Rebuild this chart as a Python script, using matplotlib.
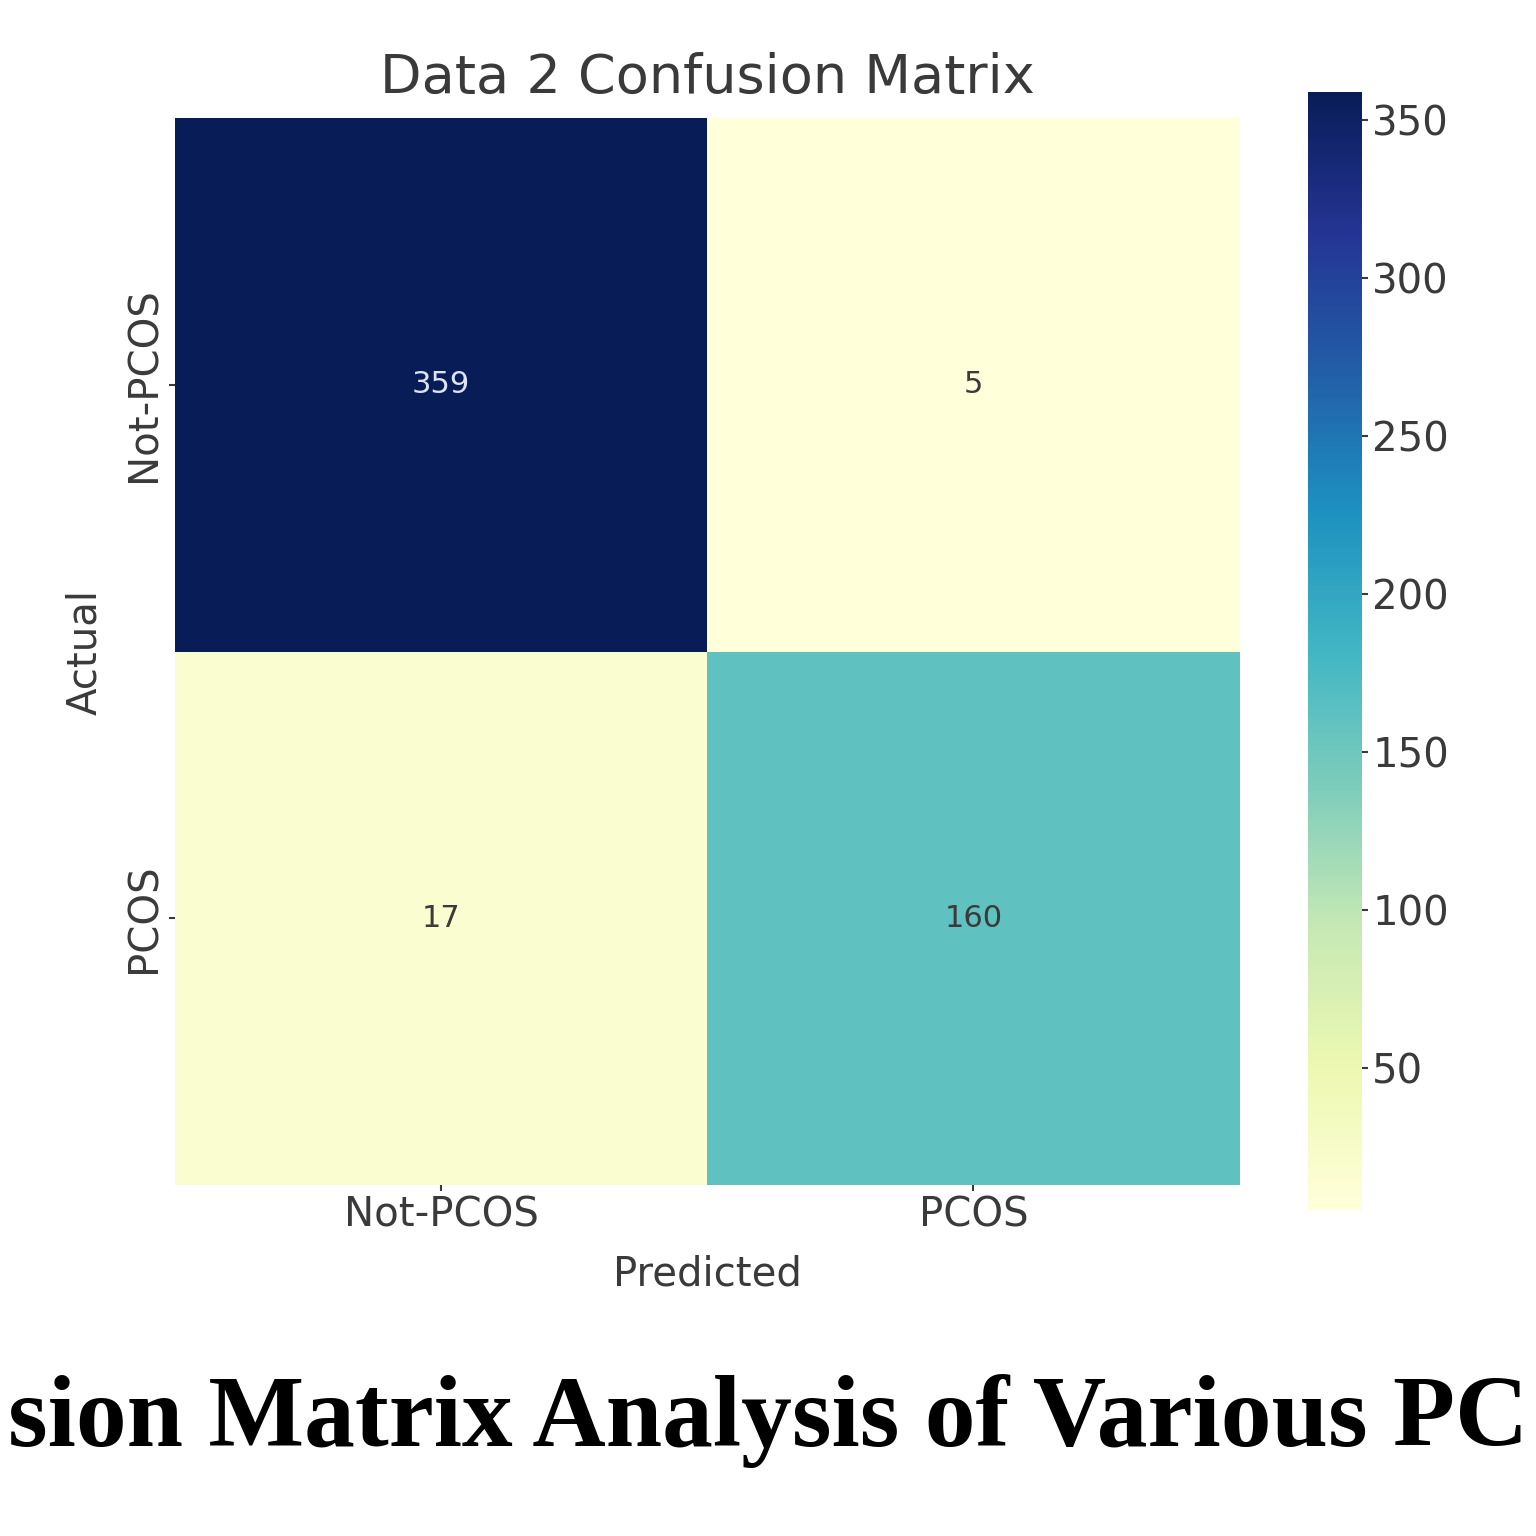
import matplotlib
matplotlib.use("Agg")
import matplotlib.pyplot as plt
import seaborn as sns
import numpy as np

# Data
row_labels = ["Not-PCOS", "PCOS"]
col_labels = ["Not-PCOS", "PCOS"]
row_notpcos = [359, 5]
row_pcos = [17, 160]
cbar_ticks = [50, 100, 150, 200, 250, 300, 350]
title = "Data 2 Confusion Matrix"
caption = "sion Matrix Analysis of Various PC"

matrix = np.array([row_notpcos, row_pcos])

plt.rcParams['font.family'] = ['DejaVu Sans']
fig = plt.figure(figsize=(15.36, 15.36), dpi=100)
ax = fig.add_axes([0.114, 0.2285, 0.693, 0.6945])
cax = fig.add_axes([0.8516, 0.2122, 0.035, 0.728])

txt = '#3a3a3a'
sns.heatmap(matrix, ax=ax, cbar_ax=cax, cmap='YlGnBu', annot=True, fmt='d',
            vmin=matrix.min(), vmax=matrix.max(),
            xticklabels=col_labels, yticklabels=row_labels,
            annot_kws={'fontsize': 22})
for t in ax.texts:
    v = int(t.get_text())
    t.set_color('#dde4f0' if v > 250 else '#3a3a3a')

ax.set_title(title, fontsize=39, color=txt, pad=18)
ax.set_xlabel("Predicted", fontsize=29, color=txt, labelpad=14)
ax.set_ylabel("Actual", fontsize=29, color=txt, labelpad=14)
ax.tick_params(axis='both', labelsize=29, colors=txt, length=4, width=1.5)
ax.tick_params(axis='x', labelcolor=txt)
plt.setp(ax.get_yticklabels(), rotation=90, va='center')

cax.set_yticks(cbar_ticks)
cax.tick_params(labelsize=29, colors=txt, length=4, width=1.5)
for s in cax.spines.values():
    s.set_visible(False)

# caption (bold serif), fit to width
ct = fig.text(0.5, 0.075, caption, ha='center', va='center',
              fontfamily='Liberation Serif', fontweight='bold', fontsize=80,
              color='black')
fig.canvas.draw()
r = fig.canvas.get_renderer()
w = ct.get_window_extent(r).width
ct.set_fontsize(80 * 1520 / w)

fig.savefig('out.png', dpi=100, facecolor='white')
